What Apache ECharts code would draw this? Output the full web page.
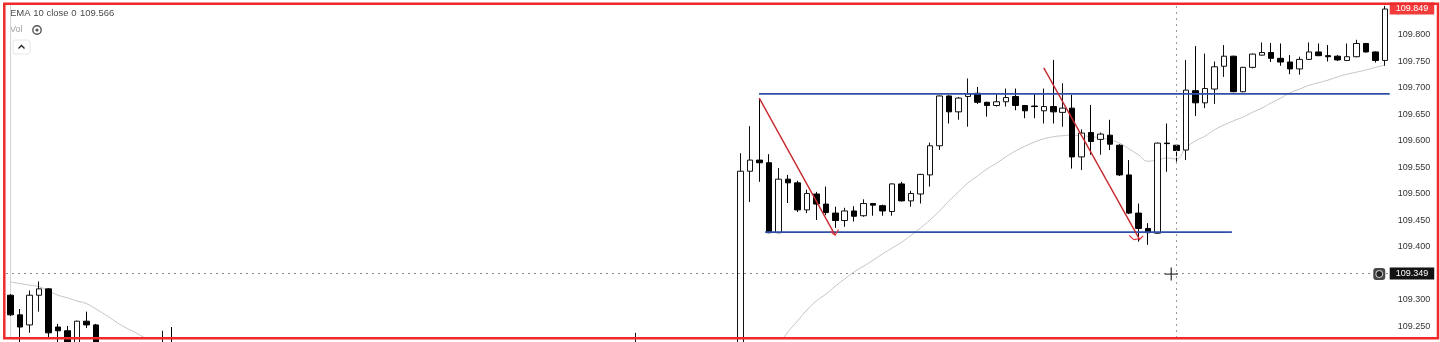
<!DOCTYPE html>
<html><head><meta charset="utf-8">
<script src="https://cdn.jsdelivr.net/npm/echarts@6/dist/echarts.min.js"></script>
<style>html,body{margin:0;padding:0;background:#fff}#c{width:1440px;height:342px}</style>
</head><body><div id="c"></div>
<script>
// ---- DATA ----
// candles: [open, close, low, high]
const candles = [
/*0*/[109.309,109.272,109.270,109.311],[109.272,109.249,109.200,109.283],[109.253,109.309,109.238,109.318],[109.309,109.321,109.278,109.335],
/*4*/[109.321,109.238,109.230,109.322],[109.249,109.242,109.205,109.255],[109.242,109.215,109.200,109.251],[109.215,109.260,109.205,109.261],
/*8*/[109.260,109.253,109.247,109.278],[109.253,109.210,109.200,109.255],
/*10*/[109.210,109.195,109.185,109.220],[109.195,109.205,109.188,109.214],[109.205,109.190,109.182,109.212],[109.190,109.178,109.170,109.198],
/*14*/[109.178,109.186,109.172,109.195],[109.186,109.200,109.180,109.208],[109.200,109.214,109.196,109.242],[109.214,109.205,109.198,109.249],
/*18*/[109.205,109.192,109.185,109.216],[109.192,109.180,109.172,109.198],[109.180,109.168,109.160,109.186],[109.168,109.175,109.158,109.182],
/*22*/[109.175,109.162,109.155,109.180],[109.162,109.150,109.142,109.168],[109.150,109.158,109.145,109.166],[109.158,109.146,109.138,109.163],
/*26*/[109.146,109.138,109.130,109.152],[109.138,109.145,109.132,109.151],[109.145,109.152,109.140,109.160],[109.152,109.140,109.135,109.158],
/*30*/[109.140,109.132,109.125,109.146],[109.132,109.139,109.128,109.144],[109.139,109.148,109.134,109.155],[109.148,109.141,109.136,109.153],
/*34*/[109.141,109.130,109.124,109.146],[109.130,109.122,109.116,109.136],[109.122,109.128,109.118,109.134],[109.128,109.136,109.124,109.142],
/*38*/[109.136,109.129,109.122,109.140],[109.129,109.120,109.114,109.133],[109.120,109.126,109.116,109.131],[109.126,109.134,109.121,109.140],
/*42*/[109.134,109.142,109.130,109.149],[109.142,109.137,109.131,109.148],[109.137,109.145,109.133,109.151],[109.145,109.152,109.140,109.158],
/*46*/[109.152,109.147,109.141,109.157],[109.147,109.156,109.143,109.162],[109.156,109.163,109.151,109.169],[109.163,109.158,109.152,109.168],
/*50*/[109.158,109.166,109.154,109.172],[109.166,109.172,109.161,109.178],[109.172,109.168,109.162,109.177],[109.168,109.175,109.164,109.181],
/*54*/[109.175,109.182,109.170,109.188],[109.182,109.177,109.171,109.186],[109.177,109.184,109.173,109.190],[109.184,109.190,109.179,109.196],
/*58*/[109.190,109.186,109.180,109.195],[109.186,109.193,109.182,109.199],[109.193,109.199,109.188,109.205],[109.199,109.194,109.189,109.204],
/*62*/[109.194,109.201,109.190,109.207],[109.201,109.206,109.196,109.212],[109.206,109.202,109.197,109.211],[109.202,109.209,109.198,109.215],
/*66*/[109.209,109.214,109.204,109.238],[109.214,109.208,109.202,109.219],[109.208,109.213,109.203,109.218],[109.213,109.209,109.204,109.217],
/*70*/[109.209,109.214,109.205,109.219],[109.214,109.210,109.205,109.218],[109.210,109.215,109.206,109.220],[109.215,109.211,109.206,109.219],
/*74*/[109.211,109.216,109.207,109.221],[109.216,109.212,109.207,109.220],[109.212,109.217,109.208,109.222],
/*77*/[109.217,109.543,109.210,109.577],[109.543,109.564,109.485,109.628],[109.564,109.559,109.523,109.681],
/*80*/[109.559,109.427,109.426,109.575],[109.427,109.528,109.426,109.549],[109.528,109.521,109.483,109.536],[109.521,109.470,109.466,109.525],
/*84*/[109.470,109.501,109.464,109.508],[109.500,109.481,109.451,109.504],[109.481,109.465,109.460,109.514],[109.464,109.450,109.436,109.476],
/*88*/[109.450,109.468,109.438,109.474],[109.468,109.458,109.448,109.477],[109.459,109.482,109.457,109.490],[109.482,109.479,109.459,109.483],
/*92*/[109.478,109.468,109.459,109.480],[109.467,109.519,109.459,109.520],[109.519,109.487,109.486,109.523],[109.487,109.501,109.476,109.506],
/*96*/[109.500,109.537,109.482,109.538],[109.536,109.591,109.514,109.597],[109.591,109.685,109.583,109.686],[109.685,109.655,109.633,109.686],
/*100*/[109.655,109.681,109.640,109.683],[109.684,109.689,109.627,109.718],[109.690,109.673,109.670,109.702],[109.673,109.667,109.646,109.674],
/*104*/[109.667,109.674,109.665,109.690],[109.674,109.682,109.665,109.699],[109.684,109.667,109.658,109.699],[109.667,109.657,109.643,109.668],
/*108*/[109.666,109.665,109.643,109.690],[109.657,109.665,109.633,109.699],[109.665,109.655,109.633,109.753],[109.654,109.662,109.627,109.709],
/*112*/[109.662,109.570,109.548,109.687],[109.570,109.615,109.545,109.622],[109.616,109.599,109.574,109.668],[109.603,109.613,109.574,109.616],
/*116*/[109.611,109.594,109.583,109.640],[109.592,109.536,109.534,109.594],[109.536,109.464,109.462,109.564],[109.464,109.435,109.410,109.482],
/*120*/[109.435,109.427,109.404,109.445],[109.426,109.596,109.425,109.597],[109.596,109.595,109.542,109.633],[109.592,109.582,109.561,109.594],
/*124*/[109.583,109.696,109.564,109.753],[109.695,109.672,109.647,109.779],[109.672,109.699,109.662,109.765],[109.698,109.740,109.670,109.750],
/*128*/[109.741,109.760,109.721,109.781],[109.760,109.693,109.692,109.761],[109.693,109.739,109.692,109.740],[109.739,109.764,109.737,109.765],
/*132*/[109.762,109.767,109.761,109.786],[109.767,109.756,109.749,109.785],[109.756,109.749,109.742,109.784],[109.749,109.736,109.726,109.762],
/*136*/[109.736,109.754,109.725,109.759],[109.754,109.768,109.753,109.786],[109.768,109.761,109.760,109.784],[109.761,109.759,109.750,109.781],
/*140*/[109.760,109.753,109.751,109.762],[109.752,109.759,109.751,109.784],[109.759,109.784,109.758,109.791],[109.784,109.768,109.767,109.785],
/*144*/[109.768,109.752,109.748,109.769],[109.752,109.849,109.742,109.855]
];
const ema10 = [
109.334,109.331,109.328,109.325,109.317,109.309,109.304,109.298,109.293,109.283,
109.272,109.260,109.249,109.240,109.230,109.221,109.214,109.208,109.203,109.196,
109.188,109.182,109.176,109.169,109.164,109.158,109.152,109.148,109.147,109.145,
109.141,109.139,109.140,109.140,109.137,109.132,109.130,109.131,109.130,109.127,
109.126,109.128,109.131,109.132,109.135,109.139,109.141,109.145,109.150,109.152,
109.155,109.159,109.162,109.165,109.169,109.171,109.174,109.178,109.180,109.183,
109.187,109.189,109.191,109.194,109.196,109.199,109.202,109.204,109.206,109.207,
109.209,109.210,109.211,109.212,109.213,109.214,109.215,109.216,109.217,109.218,
109.218,109.219,109.240,109.260,109.281,109.298,109.311,109.326,109.340,109.353,
109.364,109.375,109.387,109.398,109.409,109.422,109.436,109.451,109.468,109.487,
109.504,109.521,109.534,109.547,109.558,109.570,109.581,109.590,109.598,109.604,
109.608,109.610,109.611,109.610,109.608,109.606,109.602,109.596,109.585,109.574,
109.562,109.564,109.568,109.566,109.587,109.600,109.609,109.621,109.630,109.638,
109.645,109.654,109.662,109.672,109.681,109.691,109.698,109.705,109.710,109.715,
109.721,109.726,109.730,109.734,109.739,109.743
];
const categories = candles.map((_, i) => 'bar ' + (i + 1));
const yTicks = [109.25, 109.30, 109.40, 109.45, 109.50, 109.55, 109.60, 109.65, 109.70, 109.75, 109.80];
const yMin = 109.2283, yMax = 109.8566;
const lastPrice = 109.849;
const crossPrice = 109.349;
const crossBar = 123;
const emaLegendValue = '109.566';
// drawn levels (bar position, price)
const rangeTop = [[78.95, 109.689], [145.5, 109.689]];
const rangeBottom = [[79.6, 109.428], [128.85, 109.428]];
const trend1 = [[78.98, 109.681], [86.97, 109.423]];
const trend1Tip = [[86.45, 109.430], [86.97, 109.422], [87.35, 109.433]];
const trend2 = [[109.0, 109.738], [119.15, 109.413]];
const trend2Hook = [[118.0, 109.422], [118.5, 109.414], [119.2, 109.416], [119.5, 109.421]];

// ---- CHART ----
const chart = echarts.init(document.getElementById('c'), null, {renderer: 'canvas'});
const font = 'Liberation Sans, Arial, sans-serif';
function drawn(data, color, width, z) {
  return {type: 'line', xAxisIndex: 1, yAxisIndex: 0, data, symbol: 'none', silent: true,
    lineStyle: {color, width}, z: z || 4, animation: false};
}
chart.setOption({
  animation: false,
  backgroundColor: '#ffffff',
  grid: {left: 6, right: 50.3, top: 5, bottom: 4, containLabel: false},
  xAxis: [
    {type: 'category', data: categories, boundaryGap: true, show: false},
    {type: 'value', min: -0.5, max: categories.length - 0.5, show: false}
  ],
  yAxis: [{
    type: 'value', position: 'right', min: yMin, max: yMax,
    axisLine: {show: true, lineStyle: {color: '#d4d4d4', width: 1}},
    axisTick: {show: false}, splitLine: {show: false},
    axisLabel: {customValues: yTicks, formatter: v => v.toFixed(3), color: '#333', fontSize: 9, margin: 8, fontFamily: font}
  }],
  series: [
    {
      type: 'line', data: ema10, symbol: 'none', smooth: true, silent: true, z: 1,
      lineStyle: {color: '#c4c4c4', width: 1}
    },
    {
      type: 'candlestick', data: candles, barWidth: 6, clip: true, z: 3,
      itemStyle: {color: '#ffffff', color0: '#000000', borderColor: '#111111', borderColor0: '#000000', borderWidth: 1}
    },
    drawn(rangeTop, '#2f50a6', 1.8),
    drawn(rangeBottom, '#2f50a6', 1.8),
    drawn(trend1, '#c62a2f', 1.4, 5),
    drawn(trend1Tip, '#e0383c', 1.2, 5),
    drawn(trend2, '#c62a2f', 1.4, 5),
    drawn(trend2Hook, '#e0383c', 1.2, 5),
    {
      type: 'scatter', xAxisIndex: 1, silent: true, z: 6,
      data: [[122.45, crossPrice]],
      symbol: 'path://M5.4,0h1.2v12h-1.2z M0,5.4h12v1.2h-12z', symbolSize: 13,
      itemStyle: {color: '#111'},
      markLine: {
        symbol: 'none', silent: true, animation: false,
        data: [
          {yAxis: crossPrice, lineStyle: {color: '#8a8a8a', type: [2, 4], width: 1},
            label: {show: true, position: 'end', distance: 0, formatter: crossPrice.toFixed(3),
              backgroundColor: '#131313', color: '#fff', padding: [2, 6, 1, 6], fontSize: 9, fontFamily: font}},
          {xAxis: crossBar, lineStyle: {color: '#9a9a9a', type: [2, 4], width: 1}, label: {show: false}},
          {yAxis: lastPrice, lineStyle: {color: 'rgba(0,0,0,0)', width: 0},
            label: {show: true, position: 'end', distance: 0, formatter: lastPrice.toFixed(3), opacity: 1,
              backgroundColor: '#f23b3b', color: '#fff', padding: [2, 6, 1, 6], fontSize: 9, fontFamily: font}}
        ]
      }
    },
    {
      type: 'scatter', xAxisIndex: 1, silent: true, z: 7,
      data: [{value: [144.4, crossPrice], symbol: 'roundRect', symbolSize: 12, itemStyle: {color: '#1a1a1a'}},
             {value: [144.4, crossPrice], symbol: 'circle', symbolSize: 7, itemStyle: {color: '#1a1a1a', borderColor: '#fff', borderWidth: 1}}]
    }
  ],
  graphic: [
    {type: 'text', x: 10, y: 13, silent: true, style: {text: 'EMA 10 close 0', fill: '#4a4a4a', font: '9.5px ' + font, verticalAlign: 'middle', textVerticalAlign: 'middle'}},
    {type: 'text', x: 80, y: 13, silent: true, style: {text: emaLegendValue, fill: '#4a4a4a', font: '9.5px ' + font, verticalAlign: 'middle', textVerticalAlign: 'middle'}},
    {type: 'text', x: 10, y: 30, silent: true, style: {text: 'Vol', fill: '#a0a0a0', font: '9px ' + font, verticalAlign: 'middle', textVerticalAlign: 'middle'}},
    {type: 'circle', silent: true, shape: {cx: 37, cy: 30, r: 4.2}, style: {fill: 'none', stroke: '#555', lineWidth: 1.4}},
    {type: 'circle', silent: true, shape: {cx: 37, cy: 30, r: 1.6}, style: {fill: '#555'}},
    {type: 'rect', silent: true, shape: {x: 13, y: 40, width: 17, height: 14, r: 2}, style: {fill: '#fff', stroke: '#e6e6e6', lineWidth: 1}},
    {type: 'polyline', silent: true, shape: {points: [[18.5, 48.5], [21.5, 45.5], [24.5, 48.5]]}, style: {fill: 'none', stroke: '#222', lineWidth: 1.3}},
    {type: 'rect', silent: true, z: 100, shape: {x: 4.3, y: 3.7, width: 1433.7, height: 334.5}, style: {fill: 'none', stroke: '#ee2a2a', lineWidth: 2.5}}
  ]
});
</script>
</body></html>
